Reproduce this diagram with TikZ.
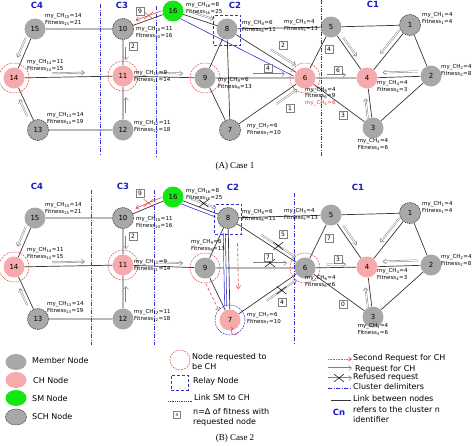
\documentclass[tikz,border=0pt]{standalone}
\usepackage{fontspec}
\setmainfont{DejaVu Sans}
\newfontfamily\capfont{Liberation Serif}
\usetikzlibrary{arrows.meta,calc,shapes.misc,shapes.geometric,backgrounds}
\definecolor{ngray}{RGB}{168,168,168}
\definecolor{npink}{RGB}{246,170,172}
\definecolor{ngreen}{RGB}{20,230,20}
\definecolor{dblue}{RGB}{50,50,210}
\definecolor{cblue}{RGB}{25,25,200}
\definecolor{edgec}{RGB}{55,55,55}
\definecolor{rred}{RGB}{230,70,70}
\newcommand\info[5]{\node[lab] (#1) at (#2) {my\_CH\textsubscript{#3}=#4\\Fitness\textsubscript{#3}=#5};}
\newcommand\reqline[6][req]{\draw[#1] ($(#2)!#4!(#3)!#6!90:(#3)$) -- ($(#2)!#5!(#3)!#6!-90:(#2)$);}
\newcommand\refline[7][req]{%
 \pgfmathsetmacro\xmidpos{(#5+#6)/2}%
 \draw[#1] ($(#3)!#5!(#4)!#7!90:(#4)$) -- ($(#3)!#6!(#4)!#7!-90:(#3)$);%
 \node[#2] at ($(#3)!\xmidpos!(#4)!#7!90:(#4)$) {};}
\begin{document}
\begin{tikzpicture}[x=1pt,y=-1pt,
 base/.style={circle,minimum size=21pt,inner sep=0pt,font=\fontsize{7}{8}\selectfont},
 mem/.style={base,fill=ngray},
 chn/.style={base,fill=npink},
 sch/.style={base,fill=ngray,draw=black!75,dash pattern=on 1.2pt off 0.8pt,line width=0.6pt},
 smn/.style={base,fill=ngreen},
 ring/.style={circle,draw=rred,dash pattern=on 2pt off 1pt,line width=0.5pt,minimum size=30pt,inner sep=0pt},
 bring/.style={ring,draw=dblue},
 relay/.style={rectangle,draw=dblue,dash pattern=on 3pt off 2pt,line width=0.7pt,minimum width=27pt,minimum height=30pt,inner sep=0pt},
 link/.style={draw=edgec,line width=0.7pt},
 smlink/.style={draw=dblue,line width=0.6pt},
 req/.style={draw=gray,line width=0.45pt,double=white,double distance=0.9pt,-{Straight Barb[length=3pt,width=5pt]}},
 sreq/.style={draw=rred,densely dashed,line width=0.6pt,-{Straight Barb[length=3pt,width=4.5pt]}},
 rreq/.style={draw=rred,line width=0.6pt,-{Straight Barb[length=3pt,width=4.5pt]}},
 xmark/.style={cross out,draw=black,line width=0.5pt,minimum width=9pt,minimum height=7pt,inner sep=0pt},
 rxmark/.style={xmark,draw=rred},
 nbox/.style={rectangle,draw=gray,fill=white,line width=0.4pt,minimum size=8.5pt,inner sep=0pt,font=\fontsize{6}{6}\selectfont},
 lab/.style={anchor=north west,inner sep=0pt,align=left,font=\fontsize{5.5}{7}\selectfont},
 clab/.style={font=\fontsize{8.5}{9}\selectfont\bfseries,text=cblue,inner sep=0pt},
 delim/.style={draw=dblue,line width=0.8pt,dash pattern=on 4pt off 1.5pt on 1pt off 1.5pt},
 legt/.style={anchor=west,inner sep=0pt,align=left,font=\fontsize{8}{10}\selectfont},
 captxt/.style={font=\capfont\fontsize{9}{10}\selectfont,inner sep=0pt},
]
\useasboundingbox (0,0) rectangle (474,445);
\begin{scope}[on background layer]
\fill[white] (0,0) rectangle (474,445);
\end{scope}

%================ CASE 1 =================
\node[mem] (a15) at (35,29) {15};
\node[chn] (a14) at (14,78) {14};
\node[sch] (a13) at (38,130) {13};
\node[sch] (a10) at (123,29) {10};
\node[chn] (a11) at (123,76) {11};
\node[mem] (a12) at (123,130) {12};
\node[smn] (a16) at (173,11) {16};
\node[mem] (a8) at (227,29) {8};
\node[mem] (a9) at (205,78) {9};
\node[sch] (a7) at (230,130) {7};
\node[chn] (a6) at (305,78) {6};
\node[mem] (a5) at (331,27) {5};
\node[sch] (a1) at (410,25) {1};
\node[chn] (a4) at (367,78) {4};
\node[mem] (a2) at (431,76) {2};
\node[mem] (a3) at (373,128) {3};
\node[ring] (a14r) at (a14) {};
\node[ring] (a11r) at (a11) {};
\node[ring] (a9r) at (a9) {};
\node[ring] (a6r) at (a6) {};
\node[relay] (a8r) at (227,30) {};

\begin{scope}[on background layer]
\draw[link] (a15)--(a10) (a15)--(a14) (a14)--(a13) (a14)--(a11) (a13)--(a12)
 (a10)--(a11) (a11)--(a12) (a10)--(a16) (a11)--(a9) (a16)--(a8) (a8)--(a9)
 (a8)--(a7) (a9)--(a7) (a9)--(a6) (a7)--(a6) (a8)--(a6) (a8)--(a5) (a5)--(a1)
 (a5)--(a4) (a5)--(a6) (a1)--(a4) (a1)--(a2) (a2)--(a4) (a2)--(a3) (a3)--(a4)
 (a3)--(a6) (a6)--(a4);
\draw[smlink] ($(a16)!10pt!(a6)!-3.5pt!90:(a6)$) -- ($(a6)!11pt!(a16)!3.5pt!90:(a16)$);
\end{scope}

\draw[delim] (100,4) -- (100,156);
\draw[delim] (156,6) -- (156,156);
\draw[delim] (321,0) -- (321,156);
\node[clab] (ac4) at (37,5) {C4};
\node[clab] (ac3) at (122,5) {C3};
\node[clab] (ac2) at (235,5) {C2};
\node[clab] (ac1) at (373,4) {C1};

\reqline{a15}{a14}{.22}{.62}{-5pt}
\reqline{a13}{a14}{.3}{.62}{4pt}
\reqline{a14}{a11}{.35}{.65}{4pt}
\reqline{a10}{a11}{.38}{.66}{3pt}
\reqline{a12}{a11}{.31}{.61}{-3pt}
\reqline{a11}{a9}{.43}{.73}{4pt}
\reqline{a9}{a6}{.48}{.8}{4pt}
\reqline{a7}{a6}{.58}{.86}{-5pt}
\reqline{a8}{a6}{.52}{.84}{6pt}
\reqline{a16}{a8}{.33}{.72}{5pt}
\refline[rreq]{rxmark}{a16}{a10}{.2}{.72}{-4pt}
\reqline{a6}{a4}{.35}{.66}{3pt}
\reqline{a5}{a4}{.25}{.62}{4pt}
\reqline{a1}{a4}{.15}{.6}{-5pt}
\reqline{a2}{a4}{.2}{.75}{-5pt}
\reqline{a3}{a4}{.2}{.6}{4pt}

\node[nbox] (ab1) at (133,46) {2};
\node[nbox] (ab2) at (283,45) {2};
\node[nbox] (ab3) at (268,68) {4};
\node[nbox] (ab4) at (290,108) {1};
\node[nbox] (ab5) at (140,11) {9};
\node[nbox] (ab6) at (338,70) {6};
\node[nbox] (ab7) at (329,49) {4};
\node[nbox] (ab8) at (343,115) {3};

\info{al15}{45,13}{15}{14}{21}
\info{al14}{27,59}{14}{11}{15}
\info{al13}{47,112}{13}{14}{19}
\info{al10}{136,26}{10}{11}{16}
\info{al11}{134,70}{11}{9}{14}
\info{al12}{134,120}{12}{11}{18}
\info{al16}{186,2}{16}{8}{25}
\info{al8}{242,20}{8}{6}{11}
\info{al9}{218,77}{9}{6}{13}
\info{al7}{247,123}{7}{6}{10}
\info{al5}{284,19}{5}{4}{13}
\node[lab,font=\fontsize{5.5}{6.5}\selectfont] (al6) at (305,87) {my\_CH\textsubscript{6}=4\\Fitness\textsubscript{6}=9\\\textcolor{rred}{my\_CH\textsubscript{6}=6}};
\info{al1}{422,12}{1}{4}{4}
\info{al4}{377,80}{4}{4}{3}
\info{al2}{441,64}{2}{4}{8}
\node[lab,anchor=north,align=center] (al3) at (373,138) {my\_CH\textsubscript{3}=4\\Fitness\textsubscript{3}=6};

\node[captxt] (capa) at (235,166) {(A) Case 1};

%================ CASE 2 =================
\node[mem] (b15) at (35,218) {15};
\node[chn] (b14) at (14,267) {14};
\node[sch] (b13) at (38,319) {13};
\node[sch] (b10) at (123,218) {10};
\node[chn] (b11) at (123,265) {11};
\node[mem] (b12) at (123,319) {12};
\node[smn] (b16) at (173,197) {16};
\node[sch] (b8) at (228,218) {8};
\node[mem] (b9) at (205,268) {9};
\node[chn] (b7) at (230,320) {7};
\node[mem] (b6) at (305,268) {6};
\node[mem] (b5) at (331,215) {5};
\node[sch] (b1) at (410,213) {1};
\node[chn] (b4) at (367,267) {4};
\node[mem] (b2) at (431,265) {2};
\node[mem] (b3) at (373,317) {3};
\node[ring] (b14r) at (b14) {};
\node[ring] (b11r) at (b11) {};
\node[ring] (b9r) at (b9) {};
\node[ring] (b6r) at (b6) {};
\node[bring] (b7r) at (b7) {};
\node[relay] (b8r) at (228,219) {};

\begin{scope}[on background layer]
\draw[link] (b15)--(b10) (b15)--(b14) (b14)--(b13) (b14)--(b11) (b13)--(b12)
 (b10)--(b11) (b11)--(b12) (b10)--(b16) (b11)--(b9) (b16)--(b8) (b8)--(b9)
 (b8)--(b7) (b9)--(b7) (b9)--(b6) (b7)--(b6) (b8)--(b6) (b8)--(b5) (b5)--(b1)
 (b5)--(b4) (b5)--(b6) (b1)--(b4) (b1)--(b2) (b2)--(b4) (b2)--(b3) (b3)--(b4)
 (b3)--(b6) (b6)--(b4);
\draw[smlink] ($(b16)!10pt!(b8)!-3.5pt!90:(b8)$) -- ($(b8)!12pt!(b16)!3.5pt!90:(b16)$);
\draw[smlink,double=white,double distance=1.5pt] ($(b8)!15pt!(b7)!-4pt!90:(b7)$) -- ($(b7)!14pt!(b8)!4pt!90:(b8)$);
\end{scope}

\draw[delim] (91,190) -- (91,345);
\draw[delim] (154,190) -- (154,345);
\draw[delim] (294,193) -- (294,345);
\node[clab] (bc4) at (37,186) {C4};
\node[clab] (bc3) at (123,186) {C3};
\node[clab] (bc2) at (233,187) {C2};
\node[clab] (bc1) at (358,187) {C1};

\reqline{b15}{b14}{.22}{.62}{-5pt}
\reqline{b13}{b14}{.3}{.62}{4pt}
\reqline{b14}{b11}{.35}{.65}{4pt}
\reqline{b10}{b11}{.38}{.66}{3pt}
\reqline{b12}{b11}{.31}{.61}{-3pt}
\reqline{b11}{b9}{.43}{.73}{4pt}
\refline[rreq]{rxmark}{b16}{b10}{.2}{.72}{-4pt}
\refline{xmark}{b16}{b8}{.3}{.75}{5pt}
\refline{xmark}{b8}{b6}{.4}{.85}{4pt}
\refline{xmark}{b9}{b6}{.48}{.82}{5pt}
\refline{xmark}{b7}{b6}{.45}{.85}{-5pt}
\reqline[sreq]{b8}{b7}{.25}{.7}{9pt}
\reqline[sreq]{b9}{b7}{.25}{.78}{-6pt}
\draw[draw=rred,line width=0.5pt,-{Straight Barb[length=2pt,width=3pt]}] ($(b7)+(8,12)$) arc[start angle=10,end angle=250,radius=3.5];
\reqline{b6}{b4}{.35}{.66}{3pt}
\reqline{b5}{b4}{.25}{.62}{4pt}
\reqline{b1}{b4}{.15}{.6}{-5pt}
\reqline{b2}{b4}{.2}{.75}{-5pt}
\reqline{b3}{b4}{.2}{.6}{4pt}

\node[nbox] (bb1) at (133,236) {2};
\node[nbox] (bb2) at (140,193) {9};
\node[nbox] (bb3) at (283,234) {5};
\node[nbox] (bb4) at (268,257) {7};
\node[nbox] (bb5) at (282,302) {4};
\node[nbox] (bb6) at (329,238) {7};
\node[nbox] (bb7) at (338,259) {3};
\node[nbox] (bb8) at (343,304) {0};

\info{bl15}{45,202}{15}{14}{21}
\info{bl14}{27,247}{14}{11}{15}
\info{bl13}{47,301}{13}{14}{19}
\info{bl10}{136,216}{10}{11}{16}
\info{bl11}{134,259}{11}{9}{14}
\info{bl12}{134,309}{12}{11}{18}
\info{bl16}{186,188}{16}{8}{25}
\info{bl8}{242,209}{8}{6}{11}
\info{bl9}{191,239}{9}{6}{13}
\info{bl7}{247,312}{7}{6}{10}
\info{bl5}{284,208}{5}{4}{13}
\info{bl6}{305,275}{6}{4}{6}
\info{bl1}{422,201}{1}{4}{4}
\info{bl4}{377,268}{4}{4}{3}
\info{bl2}{441,254}{2}{4}{8}
\node[lab,anchor=north,align=center] (bl3) at (373,323) {my\_CH\textsubscript{3}=4\\Fitness\textsubscript{3}=6};

%================ LEGEND =================
\node[mem,ellipse,minimum width=21pt,minimum height=16pt] (lgm) at (16,362) {};
\node[chn,ellipse,minimum width=21pt,minimum height=16pt] (lgc) at (16,380) {};
\node[smn,ellipse,minimum width=21pt,minimum height=16pt] (lgs) at (16,398) {};
\node[sch,ellipse,minimum width=21pt,minimum height=16pt] (lgh) at (16,417) {};
\node[legt] (lgmt) at (32,361) {Member Node};
\node[legt] (lgct) at (33,381) {CH Node};
\node[legt] (lgst) at (32,399) {SM Node};
\node[legt] (lght) at (32,417) {SCH Node};

\node[ring,minimum size=20pt] (lgr) at (180,360) {};
\node[legt] (lgrt) at (192,362) {Node requested to\\be CH};
\node[relay,minimum width=17pt,minimum height=15pt] (lgy) at (179.5,382.5) {};
\node[legt] (lgyt) at (193,381) {Relay Node};
\coordinate (ls1) at (168,401);
\coordinate (ls2) at (192,401);
\draw[draw=dblue,densely dotted,line width=0.8pt] (ls1) -- (ls2);
\node[legt] (lglt) at (194,398) {Link SM to CH};
\node[nbox,font=\fontsize{4.5}{5}\selectfont,minimum size=7pt] (lgn) at (177,415) {n};
\node[legt] (lgnt) at (193,417) {n=Δ of fitness with\\requested node};

\coordinate (r1a) at (328,359); \coordinate (r1b) at (352,359);
\draw[draw=rred,densely dotted,line width=0.6pt,-{Straight Barb[length=3pt,width=4pt]}] (r1a) -- (r1b);
\node[legt] (r1t) at (353,358) {Second Request for CH};
\coordinate (r2a) at (328,368); \coordinate (r2b) at (352,368);
\draw[req] (r2a) -- (r2b);
\node[legt] (r2t) at (355,369) {Request for CH};
\coordinate (r3a) at (328,378); \coordinate (r3b) at (352,378);
\draw[req] (r3a) -- (r3b);
\node[xmark] (r3x) at (339,378) {};
\node[legt] (r3t) at (353,377) {Refused request};
\coordinate (r4a) at (328,388); \coordinate (r4b) at (351,388);
\draw[delim] (r4a) -- (r4b);
\node[legt] (r4t) at (353,387) {Cluster delimiters};
\coordinate (r5a) at (331,400); \coordinate (r5b) at (351,400);
\draw[link] (r5a) -- (r5b);
\node[legt] (r5t) at (353,399) {Link between nodes};
\node[clab] (r6c) at (339,412) {Cn};
\node[legt,anchor=north west] (r6t) at (353,406) {refers to the cluster n\\identifier};

\node[captxt] (capb) at (235,438) {(B) Case 2};
\end{tikzpicture}
\end{document}
